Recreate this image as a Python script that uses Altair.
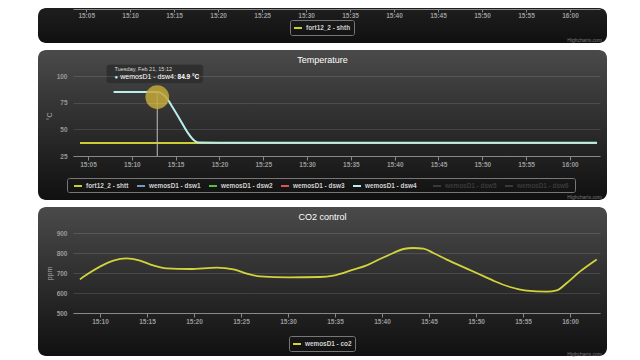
import altair as alt
import pandas as pd

FONT = "Liberation Sans"

# ---------------- texts ----------------
panel_titles = ["Temperature", "CO2 control"]
credits_text = "Highcharts.com"
tick_labels = ["15:05", "15:10", "15:15", "15:20", "15:25", "15:30",
               "15:35", "15:40", "15:45", "15:50", "15:55", "16:00"]

# ---------------- top panel (only its bottom edge is visible) ----------------
top_series = ["fort12_2 - shth"]
top_colors = ["#cccc33"]
top_domain = ["15:03:30", "16:03:25"]

# ---------------- temperature panel ----------------
temp_active = ["fort12_2 - shtt", "wemosD1 - dsw1", "wemosD1 - dsw2",
               "wemosD1 - dsw3", "wemosD1 - dsw4"]
temp_colors = ["#cccc33", "#7798bf", "#55bf3b", "#df5353", "#b8eeee"]
temp_hidden = ["wemosD1 - dsw5", "wemosD1 - dsw6"]
temp_hidden_colors = ["#3a3a3a", "#3a3a3a"]
temp_domain = ["15:03:17", "16:03:26"]
temp_ticks = [25, 50, 75, 100]

shtt_times = ["15:04:05", "15:10:00", "15:20:00", "15:30:00", "15:40:00",
              "15:50:00", "16:00:00", "16:03:05"]
shtt_values = [37.3, 37.3, 37.2, 37.2, 37.2, 37.2, 37.2, 37.2]

dsw4_times = ["15:07:55", "15:10:00", "15:12:54", "15:14:00", "15:14:43",
              "15:15:31", "15:16:18", "15:17:03", "15:17:35", "15:20:00",
              "15:30:00", "15:40:00", "15:50:00", "16:00:00", "16:03:05"]
dsw4_values = [84.9, 84.9, 84.9, 79.0, 69.7, 58.8, 47.8, 40.0, 37.6, 37.5,
               37.5, 37.5, 37.5, 37.5, 37.5]

tooltip_time = "15:12:54"
tooltip_value = 84.9
tooltip_header = "Tuesday, Feb 21, 15:12"
tooltip_series = "wemosD1 - dsw4"
tooltip_unit = "°C"

# ---------------- CO2 panel ----------------
co2_series = ["wemosD1 - co2"]
co2_colors = ["#d2d23a"]
co2_domain = ["15:07:08", "16:03:11"]
co2_ticks = [500, 600, 700, 800, 900]
co2_times = ["15:07:52", "15:08:56", "15:10:00", "15:11:25", "15:12:50",
             "15:14:15", "15:15:40", "15:17:05", "15:19:34", "15:22:25",
             "15:24:12", "15:25:37", "15:27:01", "15:30:02", "15:33:24",
             "15:34:49", "15:36:57", "15:38:22", "15:39:47", "15:41:12",
             "15:42:16", "15:43:20", "15:44:24", "15:45:28", "15:46:53",
             "15:48:18", "15:50:04", "15:51:50", "15:53:37", "15:55:23",
             "15:57:31", "15:58:35", "15:59:39", "16:01:04", "16:02:50"]
co2_values = [668, 702, 732, 762, 773, 762, 738, 723, 720, 727,
              718, 697, 683, 678, 680, 687, 717, 738, 770, 800,
              820, 825, 822, 800, 767, 737, 700, 662, 630, 612,
              607, 613, 650, 708, 768]


def minutes(hms):
    """Clock time -> minutes after 15:00."""
    parts = [int(p) for p in hms.split(":")]
    while len(parts) < 3:
        parts.append(0)
    h, m, s = parts
    return (h - 15) * 60 + m + s / 60.0


TICK_POS = [minutes(s) for s in tick_labels]
LABEL_EXPR = ("datum.value >= 60 ? '16:' + (datum.value < 70 ? '0' : '') + (datum.value - 60)"
              " : '15:' + (datum.value < 10 ? '0' : '') + datum.value")

ONE = pd.DataFrame({"k": [0]})


def panel_rect(y1, y2, top, bottom):
    grad = alt.LinearGradient(
        gradient="linear",
        stops=[alt.GradientStop(color=top, offset=0), alt.GradientStop(color=bottom, offset=1)],
        x1=0, x2=0, y1=0, y2=1)
    return alt.Chart(ONE).mark_rect(fill=grad, cornerRadius=8).encode(
        x=alt.value(-35), x2=alt.value(534), y=alt.value(y1), y2=alt.value(y2))


def label(text, x, y, size, color, align="center", weight="normal"):
    return alt.Chart(ONE).mark_text(
        text=text, font=FONT, fontSize=size, color=color, align=align,
        baseline="middle", fontWeight=weight).encode(x=alt.value(x), y=alt.value(y))


def x_axis(tick_size=4, pad=1):
    return alt.Axis(title=None, values=TICK_POS, labelExpr=LABEL_EXPR,
                    labelOverlap=False, labelFlush=False, grid=False,
                    domainColor="#888", tickColor="#888",
                    tickSize=tick_size, labelPadding=pad, labelColor="#999", labelFont=FONT,
                    labelFontSize=6.5, labelFontWeight="bold", zindex=1)


def y_axis(title, ticks):
    return alt.Axis(title=title, values=ticks, domain=False, ticks=False, grid=True,
                    gridColor="#ffffff", gridOpacity=0.12, labelPadding=6, labelColor="#999",
                    labelFont=FONT, labelFontSize=6.5, labelFontWeight="bold",
                    titleColor="#aaa", titleFont=FONT, titleFontSize=7,
                    titleFontWeight="normal", titlePadding=4, zindex=1)


def legend(x, y, color="#d0d0d0", boxed=False):
    kw = dict(orient="none", legendX=x, legendY=y, direction="horizontal", title=None,
              symbolType="stroke", symbolSize=64, symbolStrokeWidth=2, labelFont=FONT,
              labelFontSize=6.4, labelFontWeight="bold", labelColor=color,
              columnPadding=4, labelOffset=3)
    if boxed:
        kw.update(padding=3, strokeColor="#777", cornerRadius=2)
    else:
        kw.update(padding=0)
    return alt.Legend(**kw)


def xscale(domain):
    return alt.Scale(domain=[minutes(s) for s in domain], nice=False, zero=False)


# ---------------- top chart ----------------
top_df = pd.DataFrame({"series": top_series, "t": [None], "v": [None]})
top_line = alt.Chart(top_df).mark_line().encode(
    x=alt.X("t:Q", scale=xscale(top_domain), axis=x_axis(3, 0)),
    y=alt.Y("v:Q", scale=alt.Scale(domain=[0, 100]), axis=None),
    color=alt.Color("series:N", scale=alt.Scale(domain=top_series, range=top_colors),
                    legend=legend(217, 12, boxed=True)))
top = alt.layer(
    panel_rect(0, 35, "#1e1e1e", "#101010"),
    top_line,
    label(credits_text, 529, 32, 5, "#777", align="right"),
).properties(width=527, height=1)

# ---------------- temperature chart ----------------
temp_df = pd.DataFrame({
    "series": [temp_active[0]] * len(shtt_times) + [temp_active[4]] * len(dsw4_times),
    "t": [minutes(s) for s in shtt_times] + [minutes(s) for s in dsw4_times],
    "v": shtt_values + dsw4_values,
})
X_T = alt.X("t:Q", scale=xscale(temp_domain), axis=x_axis())
Y_T = alt.Y("v:Q", scale=alt.Scale(domain=[25, 100]), axis=y_axis("°C", temp_ticks))

temp_lines = alt.Chart(temp_df).mark_line(interpolate="monotone", strokeWidth=2).encode(
    x=X_T, y=Y_T,
    color=alt.Color("series:N", scale=alt.Scale(domain=temp_active, range=temp_colors),
                    legend=legend(0, 105)))

hidden_df = pd.DataFrame({"hidden": temp_hidden, "t": [None] * len(temp_hidden),
                          "v": [None] * len(temp_hidden)})
temp_hidden_layer = alt.Chart(hidden_df).mark_line().encode(
    x=X_T, y=Y_T,
    color=alt.Color("hidden:N", scale=alt.Scale(domain=temp_hidden, range=temp_hidden_colors),
                    legend=legend(359, 105, color="#3a3a3a")))

legend_box = alt.Chart(ONE).mark_rect(fillOpacity=0, stroke="#777", strokeWidth=1,
                                      cornerRadius=2).encode(
    x=alt.value(-5.5), x2=alt.value(502.5), y=alt.value(102.5), y2=alt.value(116.5))

tip_df = pd.DataFrame({
    "t": [minutes(tooltip_time)], "v": [tooltip_value], "base": [25],
    "header": [tooltip_header], "name": [tooltip_series + ":"],
    "reading": [f"{tooltip_value} {tooltip_unit}"], "dot": ["●"],
})
crosshair = alt.Chart(tip_df).mark_rule(color="#c0c0c0", strokeWidth=1).encode(
    x=X_T, y=Y_T, y2="base:Q")
halo = alt.Chart(tip_df).mark_circle(size=560, color="#c2a83a", opacity=0.85, yOffset=5).encode(
    x=X_T, y=Y_T)
tip_box = alt.Chart(tip_df).mark_rect(width=97, height=19, xOffset=-2.5, yOffset=-18,
                                      fill="#2e2e2e", fillOpacity=0.92, stroke="#444",
                                      strokeWidth=0.5, cornerRadius=3).encode(x=X_T, y=Y_T)
tip_head = alt.Chart(tip_df).mark_text(align="left", baseline="middle", dx=-42.7, dy=-22.7,
                                       font=FONT, fontSize=5.5, color="#dddddd").encode(
    x=X_T, y=Y_T, text="header:N")
tip_dot = alt.Chart(tip_df).mark_text(align="center", baseline="middle", dx=-41, dy=-15,
                                      fontSize=6, color="#aaeeee").encode(
    x=X_T, y=Y_T, text="dot:N")
tip_name = alt.Chart(tip_df).mark_text(align="left", baseline="middle", dx=-37, dy=-15,
                                       font=FONT, fontSize=7, color="#ffffff").encode(
    x=X_T, y=Y_T, text="name:N")
tip_val = alt.Chart(tip_df).mark_text(align="left", baseline="middle", dx=20.3, dy=-15,
                                      font=FONT, fontSize=6.5, fontWeight="bold",
                                      color="#ffffff").encode(
    x=X_T, y=Y_T, text="reading:N")

mid = alt.layer(
    panel_rect(-26, 124, "#4a4a4a", "#101010"),
    label(panel_titles[0], 249.5, -16, 9, "#ffffff"),
    legend_box,
    temp_lines,
    temp_hidden_layer,
    crosshair,
    halo,
    tip_box,
    tip_head,
    tip_dot,
    tip_name,
    tip_val,
    label(credits_text, 529, 121, 5, "#777", align="right"),
).resolve_scale(color="independent").properties(width=527, height=80)

# ---------------- CO2 chart ----------------
co2_df = pd.DataFrame({"series": co2_series * len(co2_times),
                       "t": [minutes(s) for s in co2_times], "v": co2_values})
co2_line = alt.Chart(co2_df).mark_line(interpolate="monotone", strokeWidth=1.8).encode(
    x=alt.X("t:Q", scale=xscale(co2_domain), axis=x_axis()),
    y=alt.Y("v:Q", scale=alt.Scale(domain=[500, 900]), axis=y_axis("ppm", co2_ticks)),
    color=alt.Color("series:N", scale=alt.Scale(domain=co2_series, range=co2_colors),
                    legend=legend(216, 103, boxed=True)))
co2 = alt.layer(
    panel_rect(-26, 123, "#4a4a4a", "#101010"),
    label(panel_titles[1], 249.5, -16, 9, "#ffffff"),
    co2_line,
    label(credits_text, 529, 121, 5, "#777", align="right"),
).properties(width=527, height=80)

chart = alt.vconcat(top, mid, co2, spacing=7).resolve_scale(
    x="independent", y="independent", color="independent"
).properties(
    padding={"left": 30, "top": 0, "right": 4, "bottom": 0},
    background="white",
).configure_view(stroke=None)

chart.save("out.html", embed_options={"renderer": "svg", "actions": False})
